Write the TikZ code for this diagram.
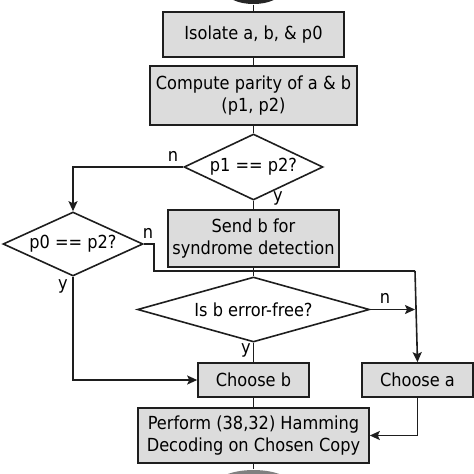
\documentclass[tikz,border=0pt]{standalone}
\usepackage{fontspec}
\setmainfont{DejaVu Sans Condensed}
\usetikzlibrary{shapes.geometric,arrows.meta}
\definecolor{boxgray}{RGB}{220,220,220}
\definecolor{ink}{RGB}{30,30,30}
\begin{document}
\begin{tikzpicture}[x=1pt,y=-1pt,line width=1.6pt,
  box/.style={draw=ink,fill=boxgray,line width=1.6pt,inner sep=0pt,align=center,font=\fontsize{18}{22}\selectfont},
  dia/.style={diamond,draw=ink,fill=white,line width=1.6pt,inner sep=0pt,shape aspect=3,font=\fontsize{18}{22}\selectfont},
  lbl/.style={font=\fontsize{18}{20}\selectfont,inner sep=0pt},
  conn/.style={draw=ink,line width=1.6pt},
  arr/.style={conn,-{Stealth[length=10pt,width=9pt,inset=2pt]}}]
\useasboundingbox (0,0) rectangle (474,474);
\node[ellipse,fill=black!85,minimum width=56,minimum height=26,inner sep=0] (start) at (253.5,-9) {};
\node[ellipse,fill=black!50,minimum width=80,minimum height=34,inner sep=0] (stop) at (253.5,487) {};
\node[box,minimum width=181,minimum height=45] (b1) at (253.5,34.5) {Isolate a, b, \& p0};
\node[box,minimum width=207,minimum height=59] (b2) at (253.5,95.5) {Compute parity of a \& b\\(p1, p2)};
\node[dia,minimum width=139,minimum height=66] (d1) at (253.5,167) {p1 == p2?};
\node[box,minimum width=171,minimum height=57] (b3) at (253.5,238.5) {Send b for\\syndrome detection};
\node[dia,minimum width=140,minimum height=64] (d2) at (73,244) {p0 == p2?};
\node[dia,minimum width=232,minimum height=65] (d3) at (253.5,309.5) {Is b error-free?};
\node[box,minimum width=111,minimum height=34] (cb) at (253.5,380) {Choose b};
\node[box,minimum width=111,minimum height=34] (ca) at (417.5,380) {Choose a};
\node[box,minimum width=231,minimum height=55] (pf) at (253.5,435.5) {Perform (38,32) Hamming\\Decoding on Chosen Copy};
\coordinate (j1) at (415,271);
\coordinate (j2) at (415,309.5);
\draw[conn] (start) -- (b1);
\draw[conn] (b1) -- (b2);
\draw[conn] (b2) -- (d1);
\draw[conn] (d1) -- (b3);
\draw[conn] (b3) -- (d3);
\draw[conn] (d3) -- (cb);
\draw[conn] (cb) -- (pf);
\draw[conn] (pf) -- (stop);
\draw[arr] (d1.west) -| (d2.north);
\draw[conn] (d2.east) -- ++(10,0) |- (j1);
\draw[arr] (j1) -- (ca.north);
\draw[arr] (d3.east) -- (j2);
\draw[arr] (d2.south) |- (cb.west);
\draw[arr] (ca.south) |- (pf.east);
\node[lbl] (n1) at (173,156) {n};
\node[lbl] (y1) at (278,198) {y};
\node[lbl] (n2) at (148,233) {n};
\node[lbl] (y2) at (63,286) {y};
\node[lbl] (n3) at (385,298) {n};
\node[lbl] (y3) at (246,350) {y};
\end{tikzpicture}
\end{document}
